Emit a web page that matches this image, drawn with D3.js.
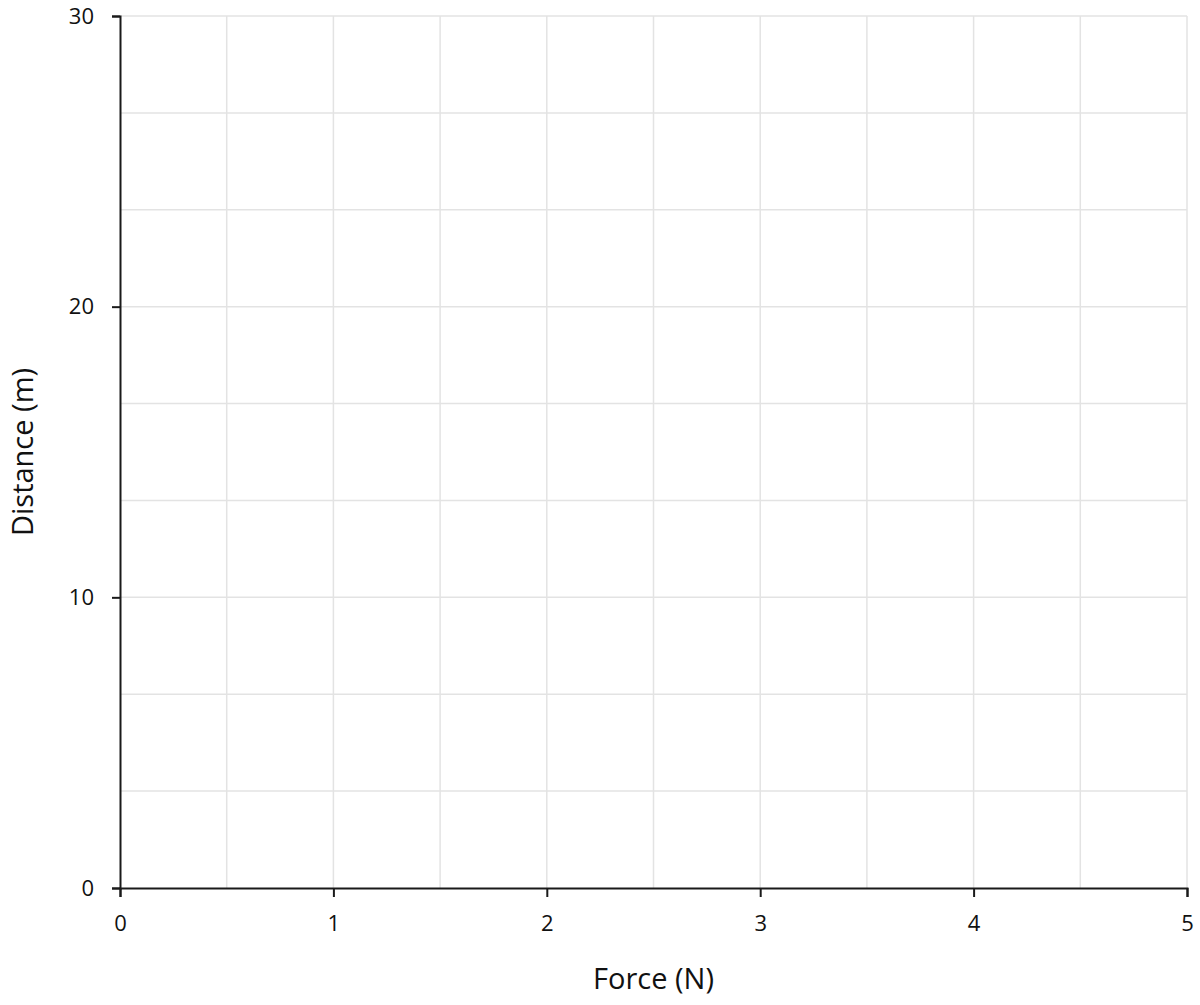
<!DOCTYPE html>
<html>
<head>
<meta charset="utf-8">
<script src="https://cdn.jsdelivr.net/npm/d3@7"></script>
<style>
  body { margin: 0; background: #fff; }
  text { font-family: "Open Sans", "Noto Sans", sans-serif; fill: #111; }
</style>
</head>
<body>
<div id="chart"></div>
<script>
// axis ranges and tick labels
var xDomain = [0, 5];
var yDomain = [0, 30];
var xTicks = [0, 1, 2, 3, 4, 5];
var yTicks = [0, 10, 20, 30];
var xGrid = [0.5, 1, 1.5, 2, 2.5, 3, 3.5, 4, 4.5, 5];
var yGrid = [10 / 3, 20 / 3, 10, 40 / 3, 50 / 3, 20, 70 / 3, 80 / 3, 30];
var xTitle = "Force (N)";
var yTitle = "Distance (m)";

var width = 1200, height = 1005;
var margin = { top: 16, right: 13, bottom: 117, left: 120 };

var svg = d3.select("#chart")
  .append("svg")
  .attr("width", width)
  .attr("height", height);

var x = d3.scaleLinear().domain(xDomain).range([margin.left, width - margin.right]);
var y = d3.scaleLinear().domain(yDomain).range([height - margin.bottom, margin.top]);

// grid
svg.append("g")
  .selectAll("line")
  .data(xGrid)
  .enter()
  .append("line")
  .attr("x1", function(d) { return x(d); })
  .attr("x2", function(d) { return x(d); })
  .attr("y1", y(yDomain[0]))
  .attr("y2", y(yDomain[1]))
  .attr("stroke", "#e3e3e3")
  .attr("stroke-width", 1.5);

svg.append("g")
  .selectAll("line")
  .data(yGrid)
  .enter()
  .append("line")
  .attr("x1", x(xDomain[0]))
  .attr("x2", x(xDomain[1]))
  .attr("y1", function(d) { return y(d); })
  .attr("y2", function(d) { return y(d); })
  .attr("stroke", "#e3e3e3")
  .attr("stroke-width", 1.5);

// axes
var xAxis = svg.append("g")
  .attr("transform", "translate(0," + y(0) + ")")
  .call(d3.axisBottom(x).tickValues(xTicks).tickSize(9).tickPadding(18).tickFormat(d3.format("d")));

var yAxis = svg.append("g")
  .attr("transform", "translate(" + x(0) + ",0)")
  .call(d3.axisLeft(y).tickValues(yTicks).tickSize(8).tickPadding(18).tickFormat(d3.format("d")));

[xAxis, yAxis].forEach(function(a) {
  a.attr("font-size", 22).attr("font-family", "'Open Sans', 'Noto Sans', sans-serif");
  a.select(".domain").attr("stroke", "#1a1a1a").attr("stroke-width", 2);
  a.selectAll(".tick line").attr("stroke", "#1a1a1a").attr("stroke-width", 2);
  a.selectAll(".tick text").attr("fill", "#111");
});

// titles
svg.append("text")
  .attr("x", (x(xDomain[0]) + x(xDomain[1])) / 2)
  .attr("y", 989)
  .attr("text-anchor", "middle")
  .style("font-size", "29px")
  .text(xTitle);

svg.append("text")
  .attr("transform", "translate(33," + (y(yDomain[0]) + y(yDomain[1])) / 2 + ") rotate(-90)")
  .attr("text-anchor", "middle")
  .style("font-size", "29px")
  .text(yTitle);
</script>
</body>
</html>
